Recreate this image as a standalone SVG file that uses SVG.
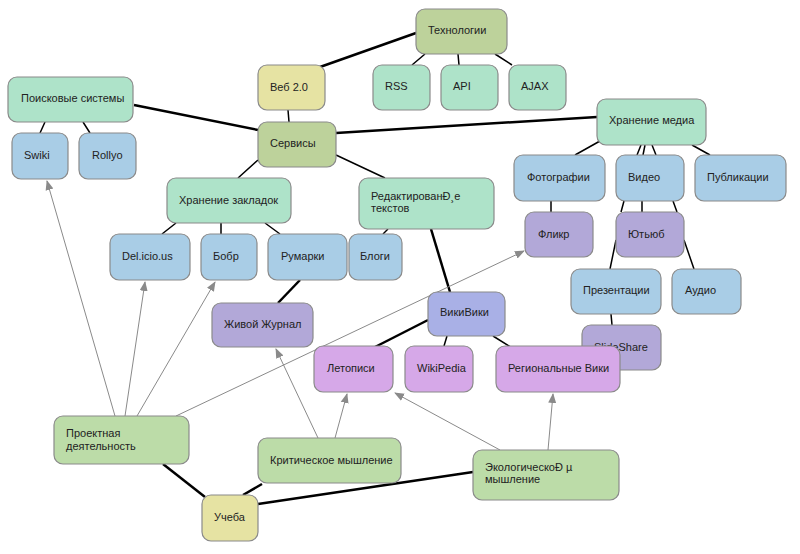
<svg xmlns="http://www.w3.org/2000/svg" width="800" height="554" viewBox="0 0 800 554">
<style>
.n rect{stroke:#8a8a8a;stroke-width:1.2}
text{font-family:"Liberation Sans",Arial,sans-serif;font-size:11px;fill:#222}
.k{stroke:#000;stroke-width:2.5;fill:none}
.t{stroke:#000;stroke-width:1.5;fill:none}
.g{stroke:#8a8a8a;stroke-width:1;fill:none;marker-end:url(#ar)}
.mint{fill:#aee3c9}.blue{fill:#a9cde6}.purp{fill:#b2a8d8}.mag{fill:#d6a8e8}.olive{fill:#bdd29b}.yel{fill:#e6e3a3}.grn{fill:#bcdca8}.vik{fill:#a9b0e6}
</style>
<defs>
<marker id="ar" markerWidth="10" markerHeight="10" refX="9" refY="5" orient="auto" markerUnits="userSpaceOnUse"><path d="M0,1 L10,5 L0,9 z" fill="#8a8a8a"/></marker>
</defs>
<rect width="800" height="554" fill="#fff"/>
<g id="connectors">
<path class="k" d="M416,33 L320,67"/>
<path class="t" d="M425,54 L412,65 M458,54 L459,65 M495,54 L512,65"/>
<path class="t" d="M288,110 L289,122"/>
<path class="k" d="M134,105 L258,130"/>
<path class="t" d="M45,122 L40,133 M83,122 L90,133"/>
<path class="k" d="M336,133 L597,117"/>
<path class="t" d="M258,160 L238,178 M336,155 L385,178"/>
<path class="t" d="M176,223 L162,234 M221,223 L221,234 M265,223 L280,234"/>
<path class="t" d="M388,229 L383,234"/>
<path class="k" d="M431,229 L450,292"/>
<path class="t" d="M600,141 L575,155 M641,145 L637,155 M645,145 L643,155 M652,145 L656,155 M692,145 L710,155"/>
<path class="t" d="M551,201 L551,212 M624,201 L621,212 M642,201 L642,212 M673,201 L677,212"/>
<path class="t" d="M616,240 L610,269 M684,240 L694,269"/>
<path class="t" d="M611,314 L612,325"/>
<path class="k" d="M300,280 L278,303"/>
<path class="k" d="M428,320 L375,347"/>
<path class="t" d="M447,336 L444,346 M493,336 L512,348"/>
<path class="k" d="M163,464 L205,497"/>
<path class="k" d="M262,484 L243,495"/>
<path class="k" d="M473,472 L258,504"/>
<path class="g" d="M115,416 L47,181"/>
<path class="g" d="M125,416 L145,282"/>
<path class="g" d="M137,416 L215,282"/>
<path class="g" d="M176,416 L524,251"/>
<path class="g" d="M318,438 L276,349"/>
<path class="g" d="M335,438 L347,394"/>
<path class="g" d="M500,450 L395,393"/>
<path class="g" d="M548,450 L553,394"/>
</g>
<g id="tech" class="n"><rect class="olive" x="416" y="9" width="91" height="45" rx="9"/><text x="428" y="34">Технологии</text></g>
<g id="rss" class="n"><rect class="mint" x="373" y="65" width="57" height="45" rx="9"/><text x="385" y="90">RSS</text></g>
<g id="api" class="n"><rect class="mint" x="441" y="65" width="57" height="45" rx="9"/><text x="453" y="90">API</text></g>
<g id="ajax" class="n"><rect class="mint" x="509" y="65" width="57" height="45" rx="9"/><text x="521" y="90">AJAX</text></g>
<g id="web" class="n"><rect class="yel" x="258" y="65" width="67" height="45" rx="9"/><text x="270" y="91">Веб 2.0</text></g>
<g id="search" class="n"><rect class="mint" x="8" y="77" width="125" height="45" rx="9"/><text x="21" y="102">Поисковые системы</text></g>
<g id="swiki" class="n"><rect class="blue" x="12" y="133" width="56" height="46" rx="9"/><text x="24" y="159">Swiki</text></g>
<g id="rollyo" class="n"><rect class="blue" x="79" y="133" width="57" height="46" rx="9"/><text x="92" y="159">Rollyo</text></g>
<g id="serv" class="n"><rect class="olive" x="258" y="122" width="78" height="45" rx="9"/><text x="270" y="147">Сервисы</text></g>
<g id="media" class="n"><rect class="mint" x="597" y="99" width="109" height="46" rx="9"/><text x="609" y="124">Хранение медиа</text></g>
<g id="bookm" class="n"><rect class="mint" x="167" y="178" width="124" height="45" rx="9"/><text x="179" y="204">Хранение закладок</text></g>
<g id="edit" class="n"><rect class="mint" x="359" y="178" width="135" height="51" rx="9"/><text x="371" y="200">РедактированÐ¸е</text><text x="371" y="212">текстов</text></g>
<g id="photo" class="n"><rect class="blue" x="514" y="155" width="91" height="46" rx="9"/><text x="527" y="181">Фотографии</text></g>
<g id="video" class="n"><rect class="blue" x="616" y="155" width="68" height="46" rx="9"/><text x="628" y="181">Видео</text></g>
<g id="publ" class="n"><rect class="blue" x="695" y="155" width="91" height="46" rx="9"/><text x="707" y="181">Публикации</text></g>
<g id="flickr" class="n"><rect class="purp" x="525" y="212" width="68" height="45" rx="9"/><text x="538" y="238">Фликр</text></g>
<g id="youtube" class="n"><rect class="purp" x="616" y="212" width="68" height="45" rx="9"/><text x="628" y="238">Ютьюб</text></g>
<g id="delicious" class="n"><rect class="blue" x="110" y="234" width="80" height="46" rx="9"/><text x="122" y="260">Del.icio.us</text></g>
<g id="bobr" class="n"><rect class="blue" x="201" y="234" width="56" height="46" rx="9"/><text x="213" y="260">Бобр</text></g>
<g id="rumarki" class="n"><rect class="blue" x="268" y="234" width="79" height="46" rx="9"/><text x="281" y="260">Румарки</text></g>
<g id="blogi" class="n"><rect class="blue" x="349" y="234" width="53" height="46" rx="9"/><text x="360" y="260">Блоги</text></g>
<g id="slideshare" class="n"><rect class="purp" x="582" y="325" width="79" height="45" rx="9"/><text x="594" y="351">SlideShare</text></g>
<g id="pres" class="n"><rect class="blue" x="571" y="269" width="90" height="45" rx="9"/><text x="583" y="294">Презентации</text></g>
<g id="audio" class="n"><rect class="blue" x="672" y="269" width="69" height="45" rx="9"/><text x="685" y="294">Аудио</text></g>
<g id="lj" class="n"><rect class="purp" x="212" y="303" width="101" height="44" rx="9"/><text x="224" y="328">Живой Журнал</text></g>
<g id="wikiwiki" class="n"><rect class="vik" x="428" y="292" width="77" height="44" rx="9"/><text x="440" y="316">ВикиВики</text></g>
<g id="letopisi" class="n"><rect class="mag" x="314" y="346" width="79" height="46" rx="9"/><text x="327" y="372">Летописи</text></g>
<g id="wikipedia" class="n"><rect class="mag" x="405" y="346" width="68" height="46" rx="9"/><text x="417" y="372">WikiPedia</text></g>
<g id="regwiki" class="n"><rect class="mag" x="496" y="346" width="124" height="46" rx="9"/><text x="508" y="372">Региональные Вики</text></g>
<g id="project" class="n"><rect class="grn" x="54" y="416" width="135" height="48" rx="9"/><text x="66" y="437">Проектная</text><text x="66" y="450">деятельность</text></g>
<g id="crit" class="n"><rect class="grn" x="258" y="438" width="143" height="45" rx="9"/><text x="270" y="464">Критическое мышление</text></g>
<g id="eco" class="n"><rect class="grn" x="473" y="450" width="146" height="50" rx="9"/><text x="485" y="471">ЭкологическоÐ µ</text><text x="485" y="483">мышление</text></g>
<g id="ucheba" class="n"><rect class="yel" x="202" y="495" width="56" height="46" rx="9"/><text x="214" y="521">Учеба</text></g>
</svg>
